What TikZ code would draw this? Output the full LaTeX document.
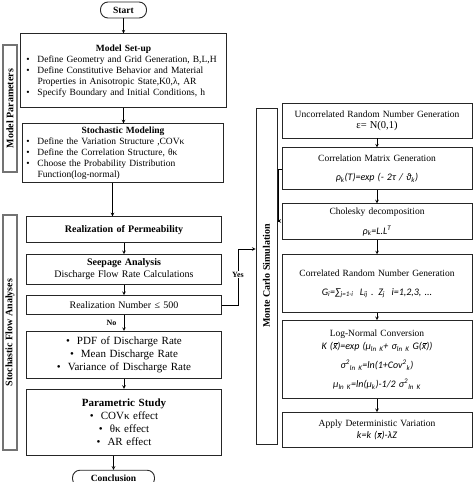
\documentclass[tikz,border=0pt]{standalone}
\usepackage{fontspec}
\usepackage{graphicx}
\setmainfont{Liberation Serif}
\newfontfamily\formfont{Carlito}
\usetikzlibrary{arrows,positioning}
\newcommand{\bitem}[1]{\par\hangindent=11pt\hangafter=1\noindent\makebox[11pt][l]{\textbullet}#1\par}
\newcommand{\fx}[1]{{\formfont\itshape\fontsize{10}{12}\selectfont #1}}
\newcommand{\xbar}{\rlap{\hspace{0.9pt}\rule[5.8pt]{3.8pt}{0.45pt}}x}
\tikzset{
	>=stealth,
	stepbox/.style={rectangle, draw=black!85, line width=0.9pt, align=center, inner xsep=4pt, inner ysep=3pt, font=\fontsize{9.5}{11}\selectfont},
	bigbox/.style={stepbox, font=\fontsize{11}{13}\selectfont},
	sidebox/.style={rectangle, draw=black!55, line width=1.6pt, minimum width=14pt, inner sep=0pt, font=\fontsize{10}{11}\selectfont\bfseries},
	terminal/.style={rectangle, draw=black!85, rounded corners=7.5pt, line width=0.9pt, minimum height=16pt, inner sep=1pt, font=\fontsize{9.5}{10}\selectfont\bfseries},
	flow/.style={->, line width=0.6pt}
}
\begin{document}
\begin{tikzpicture}[x=1pt, y=1pt]
	\useasboundingbox (0,0) rectangle (474,-482);

	% --- Nodes (left) ---
	\node[terminal, minimum width=46pt] (start) at (123.5,-10) {Start};
	\node[stepbox, below=15pt of start, text width=194pt, inner xsep=6pt, minimum height=74pt] (setup) {%
		\centering\textbf{Model Set-up}\par\raggedright
		\bitem{Define Geometry and Grid Generation, B,L,H}
		\bitem{Define Constitutive Behavior and Material\newline Properties in Anisotropic State,K0,λ, AR}
		\bitem{Specify Boundary and Initial Conditions, h}};
	\node[stepbox, below=15pt of setup, xshift=-0.5pt, text width=193pt, inner xsep=4pt, minimum height=59pt] (stoch) {%
		\centering\textbf{Stochastic Modeling}\par\raggedright
		\bitem{Define the Variation Structure ,COVκ}
		\bitem{Define the Correlation Structure, θκ}
		\bitem{Choose the Probability Distribution\newline Function(log-normal)}};
	\node[stepbox, below=33pt of stoch, xshift=1pt, text width=187pt, minimum height=26pt, font=\fontsize{10}{11}\selectfont\bfseries] (perm) {Realization of Permeability};
	\node[stepbox, below=11pt of perm, text width=187pt, minimum height=30pt, font=\fontsize{10}{12}\selectfont] (seep) {\textbf{Seepage Analysis}\\Discharge Flow Rate Calculations};
	\node[stepbox, below=10pt of seep, text width=187pt, minimum height=19pt, font=\fontsize{10}{11}\selectfont] (realnum) {Realization Number ≤ 500};
	\node[bigbox, below=16pt of realnum, text width=187pt, minimum height=47pt] (stats) {%
		\textbullet\hspace{7pt}PDF of Discharge Rate\\
		\textbullet\hspace{7pt}Mean Discharge Rate\\
		\textbullet\hspace{7pt}Variance of Discharge Rate};
	\node[bigbox, below=10pt of stats, text width=187pt, minimum height=66pt] (param) {%
		\textbf{Parametric Study}\\
		\textbullet\hspace{7pt}COVκ effect\\
		\textbullet\hspace{7pt}θκ effect\\
		\textbullet\hspace{7pt}AR effect};
	\node[terminal, below=14pt of param, xshift=-10.5pt, minimum width=82pt] (concl) {Conclusion};

	\node[sidebox, minimum height=127pt] (modpar) at (10,-108.5) {\rotatebox{90}{Model Parameters}};
	\node[sidebox, minimum height=235pt] (sfa) at (10,-332.5) {\rotatebox{90}{Stochastic Flow Analyses}};

	% --- Nodes (right) ---
	\node[sidebox, minimum width=21pt, minimum height=336pt, line width=0.9pt, draw=black!85] (mc) at (266.5,-276) {\rotatebox{90}{Monte Carlo Simulation}};
	\node[stepbox, text width=182pt, minimum height=35pt] (unc) at (377,-120.5) {Uncorrelated Random Number Generation\\{\fontsize{10.5}{11}\selectfont ε= N(0,1)}};
	\node[stepbox, below=9pt of unc, text width=182pt, minimum height=42pt] (corr) {Correlation Matrix Generation\\[8pt]\fx{ρ\textsubscript{k}(T)=exp (- 2τ / ϑ\textsubscript{k})}};
	\node[stepbox, below=13pt of corr, text width=182pt, minimum height=36pt] (chol) {Cholesky decomposition\\[9pt]\fx{ρ\textsubscript{k}=L.L\textsuperscript{T}}};
	\node[stepbox, below=14pt of chol, text width=182pt, minimum height=58pt] (corrg) {Correlated Random Number Generation\\[8pt]\fx{G\textsubscript{i}=∑\textsubscript{j=1-i}\ \ L\textsubscript{ij} . Z\textsubscript{j}\ \ i=1,2,3, ...}};
	\node[stepbox, below=7pt of corrg, text width=182pt, minimum height=78pt] (logn) {Log-Normal Conversion\\[2pt]
		\fx{K (\xbar)=exp (μ\textsubscript{ln K}+ σ\textsubscript{ln K} G(\xbar))}\\[8pt]
		\fx{σ\textsuperscript{2}\textsubscript{ln K}=ln(1+Cov\textsuperscript{2}\textsubscript{k})}\\[8pt]
		\fx{μ\textsubscript{ln K}=ln(μ\textsubscript{k})-1/2 σ\textsuperscript{2}\textsubscript{ln K}}};
	\node[stepbox, below=13pt of logn, text width=182pt, minimum height=35pt] (apply) {Apply Deterministic Variation\\[1.5pt]\fx{k=k (\xbar)-λZ}};

	% --- Connections ---
	\draw[flow] (start) -- (start |- setup.north);
	\draw[flow] (start |- setup.south) -- (start |- stoch.north);
	\draw[flow] ([xshift=-10.5pt]stoch.south) -- ([xshift=-10.5pt]stoch.south |- perm.north);
	\draw[flow] (perm) -- (seep);
	\draw[flow] (seep) -- (realnum);
	\draw[flow] (realnum) -- node[left=4pt, font=\fontsize{8}{9}\selectfont\bfseries] {No} (stats);
	\draw[flow] (stats) -- (param);
	\draw[flow] (param.south -| concl) -- (concl);

	\draw[flow] (realnum.east) -- ++(16,0) |- node[pos=0.27, fill=white, inner sep=1pt, font=\fontsize{8}{9}\selectfont\bfseries] {Yes} ([yshift=27pt]mc.west);

	\draw[flow] (unc) -- (corr);
	\draw[flow] (corr) -- (chol);
	\draw[flow] (chol) -- (corrg);
	\draw[flow] (corrg) -- (logn);
	\draw[flow] (logn) -- (apply);
	\draw[flow] (corr.west) -- ++(-3,0) |- ([yshift=55pt]mc.east);

\end{tikzpicture}
\end{document}
